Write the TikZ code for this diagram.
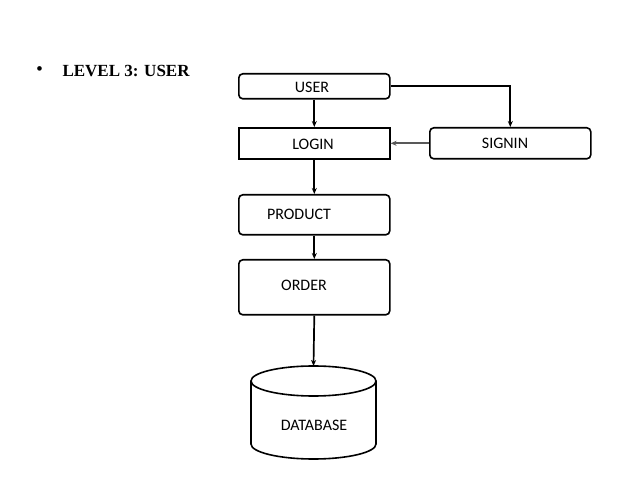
\documentclass[tikz,border=0pt]{standalone}
\usepackage{fontspec}
\setmainfont{Carlito}
\newfontfamily\titlefont{Liberation Serif}
\usetikzlibrary{arrows.meta}
\begin{document}
\begin{tikzpicture}[x=1pt,y=-1pt,
  box/.style={draw=black,line width=1.6pt,rounded corners=4pt,inner sep=0pt,anchor=north west},
  lbl/.style={font=\fontsize{16}{19}\selectfont},
  arr/.style={line width=1.7pt,-{Stealth[length=6pt,width=5pt]}}]
\useasboundingbox (0,0) rectangle (638,478);
\node[anchor=west,font=\titlefont\bfseries\fontsize{17}{20}\selectfont] (bullet) at (33,71) {\textbullet};
\node[anchor=west,font=\titlefont\bfseries\fontsize{17}{20}\selectfont] (title) at (59,71) {LEVEL 3: USER};
\node[box,minimum width=151pt,minimum height=25pt] (user) at (238,73) {};
\node[lbl] (userlbl) at (312,87) {USER};
\node[box,rounded corners=0pt,minimum width=151pt,minimum height=31pt] (login) at (238,127) {};
\node[lbl] (loginlbl) at (313,144) {LOGIN};
\node[box,minimum width=161pt,minimum height=31pt] (signin) at (429,127) {};
\node[lbl] (signinlbl) at (505,143) {SIGNIN};
\node[box,minimum width=151pt,minimum height=40pt] (product) at (238,194) {};
\node[lbl] (productlbl) at (299,214) {PRODUCT};
\node[box,minimum width=151pt,minimum height=55pt] (order) at (238,259) {};
\node[lbl] (orderlbl) at (304,285) {ORDER};
% database cylinder
\draw[line width=1.6pt] (313.5,381) ellipse [x radius=62.5, y radius=15];
\draw[line width=1.6pt] (251,381) -- (251,444) arc [start angle=180, end angle=360, x radius=62.5, y radius=-15] -- (376,381);
\coordinate (dbtop) at (313.5,366);
\node[lbl] (dblbl) at (314,425) {DATABASE};
\draw[arr] (user.south) -- (login.north);
\draw[arr] (user.east) -- (user.east -| signin.north) -- (signin.north);
\draw[arr,draw=black!65,line width=2.2pt] (signin.west) -- (login.east);
\draw[arr] (login.south) -- (product.north);
\draw[arr] (product.south) -- (order.north);
\draw[arr] (order.south) -- (dbtop);
\end{tikzpicture}
\end{document}
